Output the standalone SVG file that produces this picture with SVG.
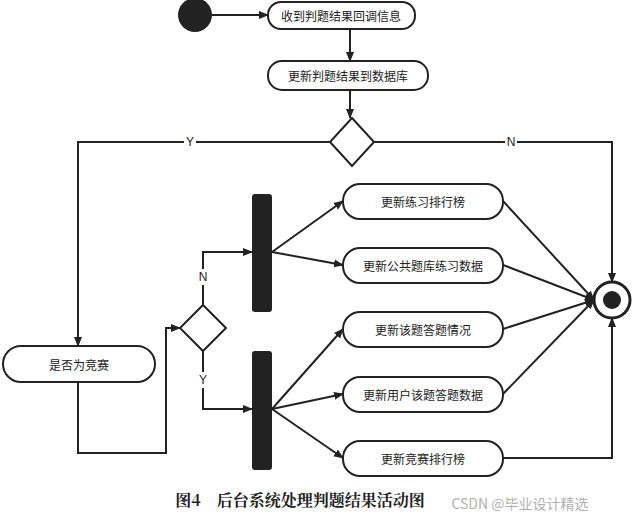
<svg xmlns="http://www.w3.org/2000/svg" width="632" height="520" viewBox="0 0 632 520">
<style>
.b{fill:#fff;stroke:#222;stroke-width:2}
.t{font-family:"Noto Sans CJK SC",sans-serif;font-size:12px;fill:#222;text-anchor:middle;dominant-baseline:central}
.l{fill:none;stroke:#222;stroke-width:2;marker-end:url(#a)}
.lb{font-family:"Liberation Sans",sans-serif;font-size:12px;fill:#222;text-anchor:middle;dominant-baseline:central}
</style>
<defs><marker id="a" markerWidth="10" markerHeight="10" refX="9" refY="5" orient="auto" markerUnits="userSpaceOnUse"><path d="M0,1 L10,5 L0,9 z" fill="#222"/></marker></defs>
<rect width="632" height="520" fill="#fff"/>
<g id="start"><circle cx="195" cy="15" r="17" fill="#222"/></g>
<g id="n1"><rect class="b" x="268" y="2" width="147" height="27" rx="13"/><text class="t" x="341" y="15.5">收到判题结果回调信息</text></g>
<g id="n2"><rect class="b" x="268" y="61" width="160" height="29" rx="14"/><text class="t" x="348" y="75.5">更新判题结果到数据库</text></g>
<g id="d1"><path class="b" d="M352,118 L374,142 L352,166 L330,142 Z"/></g>
<g id="n3"><rect class="b" x="3" y="346" width="152" height="36" rx="18"/><text class="t" x="79" y="364">是否为竞赛</text></g>
<g id="d2"><path class="b" d="M203,305 L226,328 L203,351 L180,328 Z"/></g>
<g id="bar1"><rect x="252" y="194" width="20" height="118" rx="3" fill="#222"/></g>
<g id="bar2"><rect x="252" y="351" width="20" height="119" rx="3" fill="#222"/></g>
<g id="n4"><rect class="b" x="343" y="184" width="160" height="35" rx="17"/><text class="t" x="423" y="201.5">更新练习排行榜</text></g>
<g id="n5"><rect class="b" x="343" y="248" width="160" height="35" rx="17"/><text class="t" x="423" y="265.5">更新公共题库练习数据</text></g>
<g id="n6"><rect class="b" x="343" y="312" width="160" height="35" rx="17"/><text class="t" x="423" y="329.5">更新该题答题情况</text></g>
<g id="n7"><rect class="b" x="343" y="377" width="160" height="35" rx="17"/><text class="t" x="423" y="394.5">更新用户该题答题数据</text></g>
<g id="n8"><rect class="b" x="343" y="441" width="160" height="35" rx="17"/><text class="t" x="423" y="458.5">更新竞赛排行榜</text></g>
<g id="end"><circle cx="612" cy="300" r="18" fill="#fff" stroke="#222" stroke-width="3"/><circle cx="612" cy="300" r="9" fill="#222"/></g>
<g id="connectors">
<path class="l" d="M212,15 H268"/>
<path class="l" d="M350,29 V61"/>
<path class="l" d="M350,90 V118"/>
<path class="l" d="M330,142 H78 V346"/>
<path class="l" d="M374,142 H612 V282"/>
<path class="l" d="M78,382 V453 H166 V328 H180"/>
<path class="l" d="M203,305 V252 H252"/>
<path class="l" d="M203,351 V409 H252"/>
<path class="l" d="M272,252 L343,201"/>
<path class="l" d="M272,252 L343,265"/>
<path class="l" d="M272,409 L343,329"/>
<path class="l" d="M272,409 L343,394"/>
<path class="l" d="M272,409 L343,458"/>
<path class="l" d="M503,201 L594,300"/>
<path class="l" d="M503,265 L594,300"/>
<path class="l" d="M503,329 L594,300"/>
<path class="l" d="M503,394 L594,300"/>
<path class="l" d="M503,458 H612 V318"/>
<rect x="184" y="134" width="12" height="16" fill="#fff"/><text class="lb" x="190" y="142">Y</text>
<rect x="505" y="134" width="12" height="16" fill="#fff"/><text class="lb" x="511" y="142">N</text>
<rect x="197" y="269" width="12" height="16" fill="#fff"/><text class="lb" x="203" y="277">N</text>
<rect x="197" y="372" width="12" height="16" fill="#fff"/><text class="lb" x="203" y="380">Y</text>
</g>
<text x="300" y="499" font-family="Noto Serif CJK SC,Noto Sans CJK SC,serif" font-weight="bold" font-size="16" fill="#222" text-anchor="middle" dominant-baseline="central">图4　后台系统处理判题结果活动图</text>
<text x="520" y="503" font-family="Noto Sans CJK SC,sans-serif" font-size="14" fill="#999" fill-opacity="0.8" text-anchor="middle" dominant-baseline="central">CSDN @毕业设计精选</text>
</svg>
